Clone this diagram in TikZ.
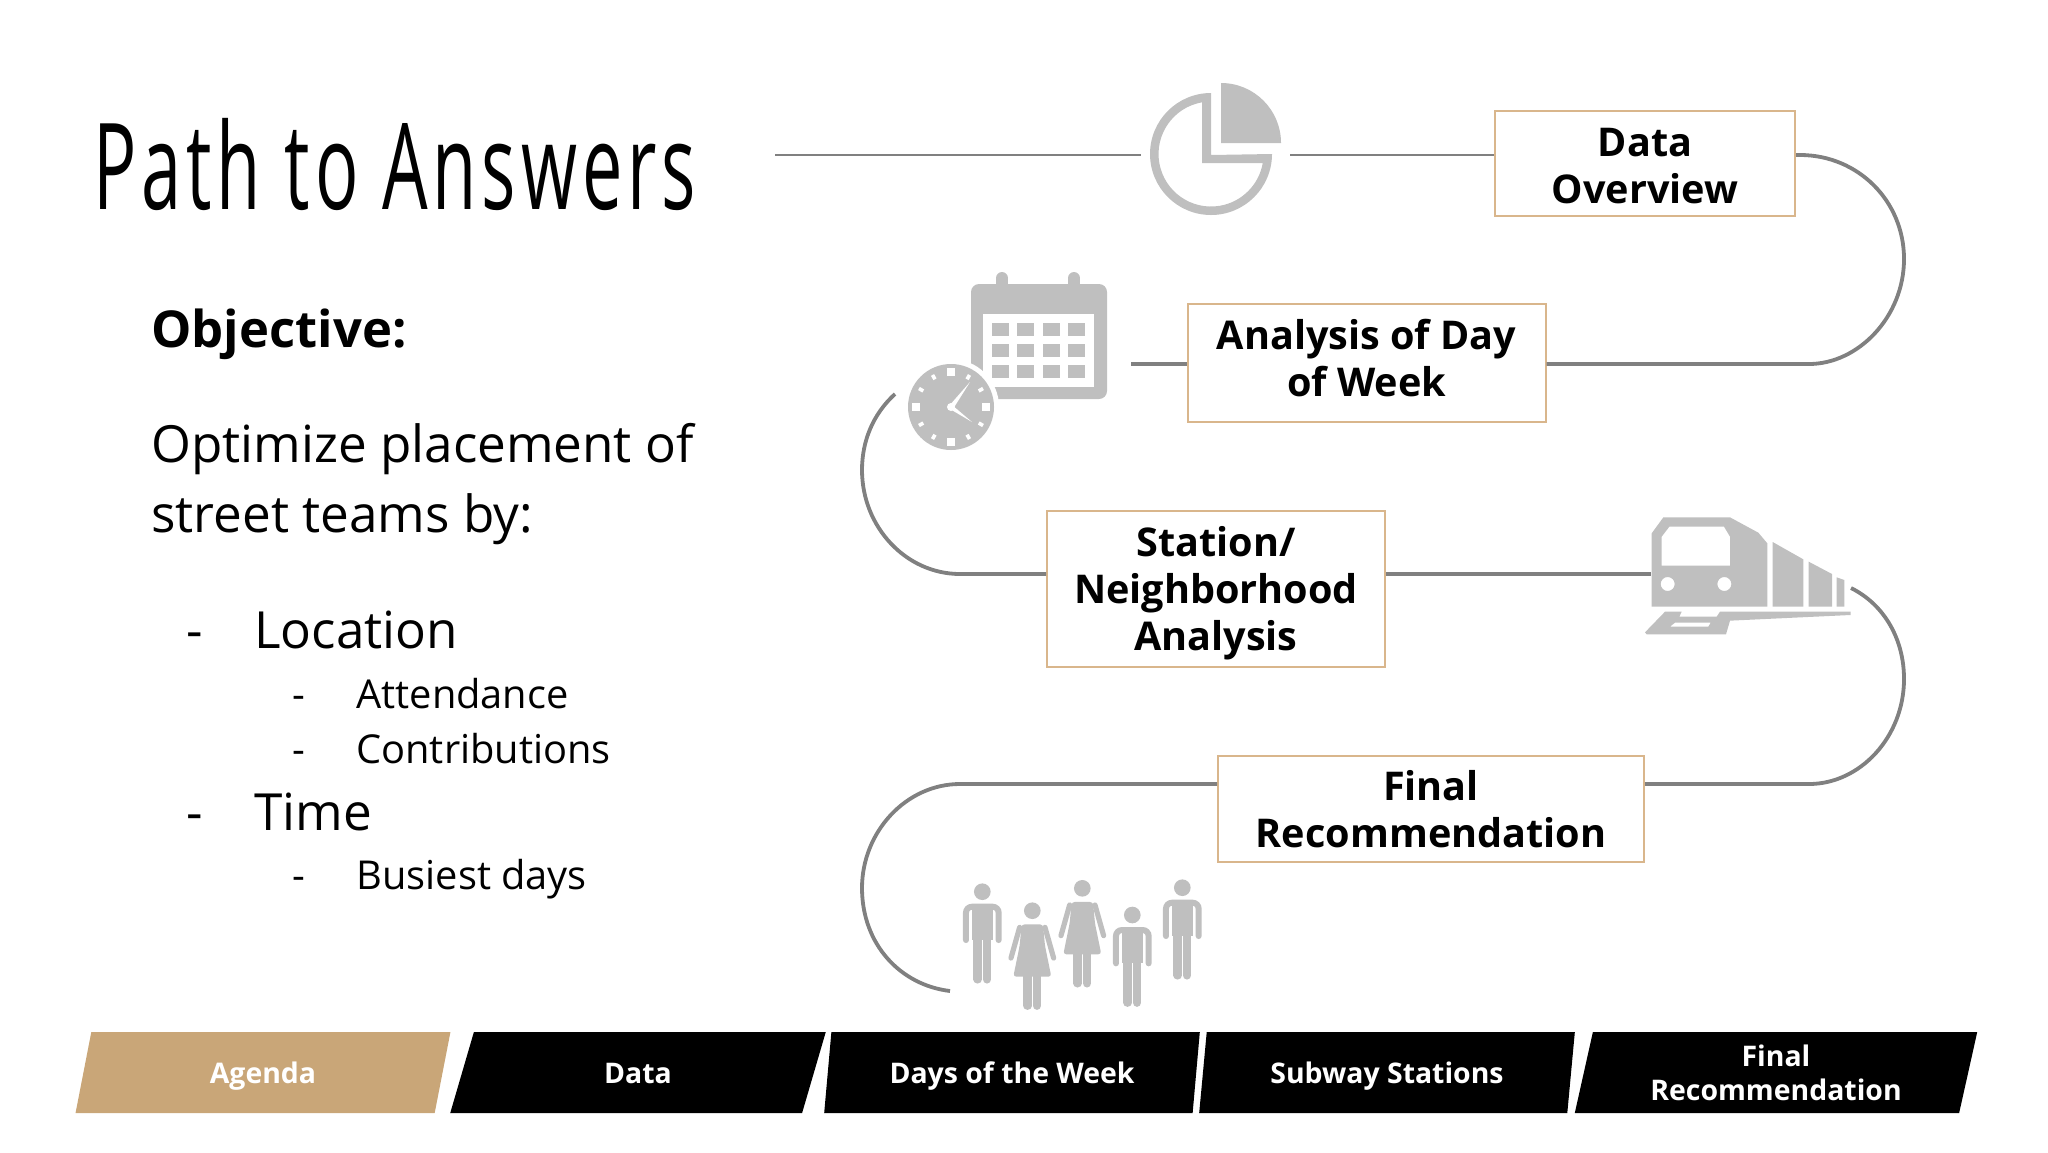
\documentclass[tikz,border=0pt]{standalone}
\usepackage{fontspec}
\setmainfont{Open Sans}
\newfontfamily\titlefont[FakeStretch=0.6, LetterSpace=4.1]{Open Sans}
\usetikzlibrary{shapes.geometric, positioning}

\definecolor{iconGray}{HTML}{BFBFBF}
\definecolor{pathGray}{HTML}{808080}
\definecolor{boxTan}{HTML}{D9B68C}
\definecolor{tabTan}{HTML}{C9A678}

\tikzset{
  pathline/.style={draw=pathGray, line width=1.9pt},
  stagebox/.style={draw=boxTan, line width=1pt, fill=white, align=center, inner sep=0pt,
    font=\fontsize{19.8}{23.5}\selectfont\bfseries},
  tabbox/.style={trapezium, trapezium left angle=77.5, trapezium right angle=102.5,
    trapezium stretches=true, minimum width=188pt, minimum height=40.5pt, inner sep=0pt,
    text height=11pt, text depth=0pt,
    fill=black, text=white, align=center, font=\fontsize{14.2}{17}\selectfont\bfseries},
  bodytext/.style={anchor=base west, inner sep=0pt, font=\fontsize{25.6}{30}\selectfont},
  subtext/.style={anchor=base west, inner sep=0pt, font=\fontsize{19.9}{24}\selectfont},
}

\newcommand{\drawman}[2]{
  \begin{scope}[shift={(#1,#2)}, scale=0.3333]
    \fill[iconGray] (0,0) circle (25);
    \draw[iconGray, line width=3pt, line cap=round, rounded corners=3pt]
      (-49,145) -- (-49,45) -- (49,45) -- (49,145);
    \fill[iconGray] (-32,36) rectangle (32,145);
    \draw[iconGray, line width=4.2pt, line cap=round] (-14,140) -- (-14,263);
    \draw[iconGray, line width=4.2pt, line cap=round] (14,140) -- (14,263);
  \end{scope}
}
\newcommand{\drawwoman}[2]{
  \begin{scope}[shift={(#1,#2)}, scale=0.3333]
    \fill[iconGray] (0,0) circle (25);
    \fill[iconGray, rounded corners=1.5pt] (-32,41) -- (32,41) -- (38,105) -- (57,198)
      -- (-57,198) -- (-38,105) -- cycle;
    \draw[iconGray, line width=2.6pt, line cap=round] (-38,50) -- (-64,142);
    \draw[iconGray, line width=2.6pt, line cap=round] (38,50) -- (64,142);
    \draw[iconGray, line width=4.2pt, line cap=round] (-14,195) -- (-14,285);
    \draw[iconGray, line width=4.2pt, line cap=round] (14,195) -- (14,285);
  \end{scope}
}

\begin{document}
\begin{tikzpicture}[x=0.5pt, y=-0.5pt]
    \useasboundingbox (0,0) rectangle (2048,1152);

    % --- Left column ---
    \node[anchor=base west, inner sep=0pt, font=\fontsize{60}{60}\selectfont\titlefont] (title) at (93,209) {Path to Answers};
    \node[bodytext, font=\fontsize{25.4}{30}\selectfont\bfseries] (objective) at (151,347) {Objective:};
    \node[bodytext] (optimize) at (151,462) {Optimize placement of};
    \node[bodytext] (street) at (151,532) {street teams by:};
    \node[bodytext] (dashLocation) at (186,648) {-};
    \node[bodytext] (location) at (254,648) {Location};
    \node[subtext] (dashAttendance) at (292,708) {-};
    \node[subtext] (attendance) at (356,708) {Attendance};
    \node[subtext] (dashContributions) at (292,763) {-};
    \node[subtext] (contributions) at (356,763) {Contributions};
    \node[bodytext] (dashTime) at (186,830) {-};
    \node[bodytext] (time) at (254,830) {Time};
    \node[subtext] (dashBusiest) at (292,889) {-};
    \node[subtext] (busiest) at (356,889) {Busiest days};

    % --- Positions ---
    \coordinate (rowOne) at (775,155);
    \coordinate (pieLeft) at (1141,155);
    \coordinate (pieRight) at (1290,155);
    \coordinate (rowTwo) at (1131,364);
    \coordinate (clockEnd) at (895,394);
    \coordinate (rowThree) at (1651,574);
    \coordinate (trainEnd) at (1851,588);
    \coordinate (peopleEnd) at (950,991);
    \coordinate (clockC) at (951,407);

    % --- Stage boxes ---
    \node[stagebox, minimum width=150pt, minimum height=52.5pt, text height=40pt] (dataBox) at (1645,163.5) {Data\\Overview};
    \node[stagebox, minimum width=179pt, minimum height=59pt, text depth=5pt] (dayBox) at (1366.5,363) {Analysis of Day\\of Week};
    \node[stagebox, minimum width=169pt, minimum height=78pt, text height=66pt] (stationBox) at (1216,589) {Station/\\Neighborhood\\Analysis};
    \node[stagebox, minimum width=213pt, minimum height=53pt] (finalBox) at (1431,809) {Final\\Recommendation};

    % --- Path between the stages ---
    \draw[pathline, line width=1.3pt] (rowOne) -- (pieLeft);
    \draw[pathline, line width=1.3pt] (pieRight) -- (dataBox.west |- pieRight);
    \draw[pathline] (dataBox.east |- pieRight) -- (1800,155)
      .. controls (1858,155) and (1904,201) .. (1904,259)
      .. controls (1904,317) and (1858,364) .. (1809,364)
      -- (dayBox.east |- rowTwo);
    \draw[pathline] (rowTwo) -- (dayBox.west |- rowTwo);
    \draw[pathline] (clockEnd)
      .. controls (873,414) and (862,441) .. (862,470)
      .. controls (862,527) and (906,574) .. (960,574)
      -- (stationBox.west |- rowThree);
    \draw[pathline] (stationBox.east |- rowThree) -- (rowThree);
    \draw[pathline] (trainEnd)
      .. controls (1885,605) and (1904,640) .. (1904,679)
      .. controls (1904,737) and (1860,784) .. (1809,784)
      -- (finalBox.east |- 0,784);
    \draw[pathline] (finalBox.west |- 0,784) -- (960,784)
      .. controls (906,784) and (862,832) .. (862,888)
      .. controls (862,944) and (900,985) .. (peopleEnd);

    % --- Pie chart ---
    \fill[iconGray, even odd rule]
      (1211,155) -- (1211,93) arc[start angle=-90, end angle=-360, radius=61] -- cycle
      (1202,163) -- (1202,102.3) arc[start angle=-99.9, end angle=-350.1, radius=52.5] -- cycle;
    \fill[iconGray] (1221,143) -- (1221,83) arc[start angle=-90, end angle=0, radius=60] -- cycle;

    % --- Calendar ---
    \draw[iconGray, line width=6pt, line cap=round] (1002,278) -- (1002,290);
    \draw[iconGray, line width=6pt, line cap=round] (1074,278) -- (1074,290);
    \fill[iconGray, rounded corners=4pt] (971,284) rectangle (1107,399);
    \fill[white] (983,314) rectangle (1094,387);
    \foreach \xcell in {992,1017,1043,1068}
      \foreach \ycell in {323,344,365}
        \fill[iconGray] (\xcell,\ycell) rectangle ++(17,13);

    % --- Clock ---
    \fill[white] (clockC) circle (48);
    \fill[iconGray] (clockC) circle (43);
    \foreach \ang in {0,90,180,270}
      \fill[white, shift={(clockC)}, rotate=\ang] (31,-4) rectangle (39,4);
    \foreach \ang in {30,60,120,150,210,240,300,330}
      \fill[white, shift={(clockC)}, rotate=\ang] (32,-1.8) rectangle (37,1.8);
    \fill[white] (949,406) -- (970,382) -- (953,409) -- cycle;
    \fill[white] (950,409) -- (972,422) -- (952,405) -- cycle;
    \fill[white] (clockC) circle (4);

    % --- Train ---
    \begin{scope}[shift={(1630,500)}, scale=0.3333]
      \fill[iconGray, even odd rule] (65,100) -- (100,52) -- (300,52) -- (385,98) -- (412,130) -- (412,320) -- (65,320) -- cycle
        (95,110) -- (118,80) -- (282,80) -- (300,110) -- (300,197) -- (95,197) -- cycle
        (113,252) circle (21) (283,252) circle (21);
      \fill[iconGray] (428,126) -- (520,178) -- (520,320) -- (428,320) -- cycle;
      \fill[iconGray] (536,185) -- (606,222) -- (606,320) -- (536,320) -- cycle;
      \fill[iconGray] (620,232) -- (643,240) -- (643,320) -- (620,320) -- cycle;
      \fill[iconGray, even odd rule] (105,335) -- (155,335) -- (148,350) -- (260,350) -- (270,335) -- (662,335) -- (662,345)
        -- (300,362) -- (288,403) -- (50,403) -- (45,397) -- cycle
        (135,368) -- (242,368) -- (235,380) -- (120,380) -- cycle;
    \end{scope}

    % --- People ---
    \drawman{982.3}{891.7}
    \drawwoman{1032.3}{910.7}
    \drawwoman{1082.3}{888.3}
    \drawman{1132.3}{915}
    \drawman{1182.3}{887.7}

    % --- Bottom tabs ---
    \node[tabbox, fill=tabTan] (tabAgenda) at (263,1072.5) {Agenda};
    \node[tabbox] (tabData) at (638,1072.5) {Data};
    \node[tabbox] (tabDays) at (1012,1072.5) {Days of the Week};
    \node[tabbox] (tabStations) at (1387,1072.5) {Subway Stations};
    \node[tabbox, minimum width=201.5pt, text height=28pt] (tabFinal) at (1776,1072.5) {Final\\Recommendation};
\end{tikzpicture}
\end{document}
